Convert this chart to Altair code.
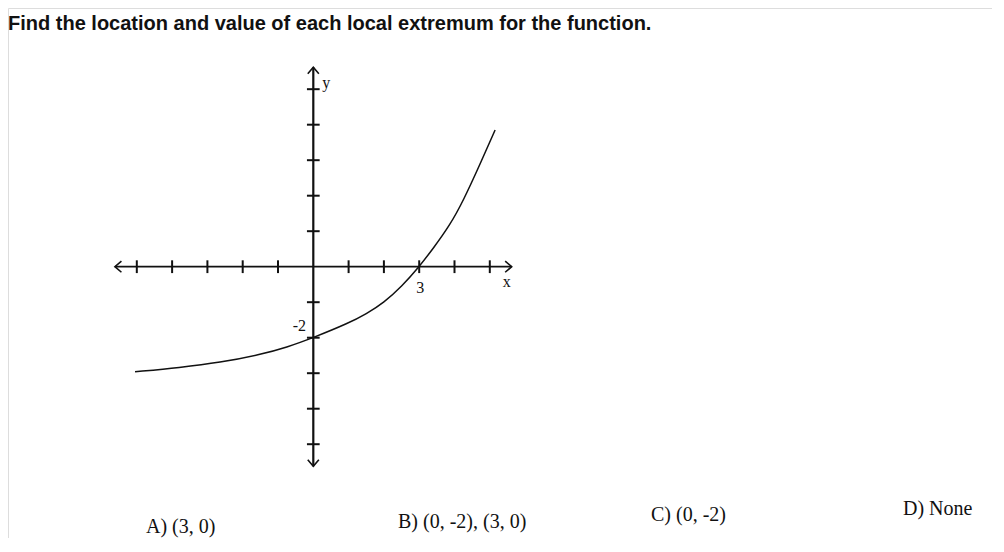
import altair as alt
import pandas as pd

# ---- content ----
title_text = "Find the location and value of each local extremum for the function."
choices = ["A) (3, 0)", "B) (0, -2), (3, 0)", "C) (0, -2)", "D) None"]

curve_x = [-5.05, -3.78, -2.64, -1.51, -0.75, 0.0, 1.0, 1.5, 2.0, 2.5, 3.0, 3.4, 3.87, 4.25, 4.72, 5.15]
curve_y = [-2.96, -2.84, -2.70, -2.48, -2.27, -2.0, -1.59, -1.33, -1.01, -0.56, 0.0, 0.52, 1.17, 1.86, 2.88, 3.85]

x_ticks = [-5, -4, -3, -2, -1, 1, 2, 3, 4, 5]
y_ticks = [-5, -4, -3, -2, -1, 1, 2, 3, 4, 5]
axis_min = -5.62
axis_max = 5.62
labeled_x_ticks = ["3"]
labeled_y_ticks = ["-2"]
x_name = "x"
y_name = "y"

# ---- layout ----
W, H = 984, 530
xs = alt.Scale(domain=[-8.649, 19.227], nice=False, zero=False)
ys = alt.Scale(domain=[-7.642, 7.287], nice=False, zero=False)
X = lambda f: alt.X(f, type="quantitative", scale=xs, axis=None)
Y = lambda f: alt.Y(f, type="quantitative", scale=ys, axis=None)
INK = "#111111"
TICK = 0.18

# axes lines
x_axis = alt.Chart(pd.DataFrame({"a": [axis_min], "b": [axis_max], "z": [0]})).mark_rule(
    color=INK, strokeWidth=1.8).encode(x=X("a"), x2="b", y=Y("z"))
y_axis = alt.Chart(pd.DataFrame({"a": [axis_min], "b": [axis_max], "z": [0]})).mark_rule(
    color=INK, strokeWidth=2.2).encode(y=Y("a"), y2="b", x=X("z"))

xt = pd.DataFrame({"v": x_ticks})
xt["lo"], xt["hi"] = -TICK, TICK
x_tick_marks = alt.Chart(xt).mark_rule(color=INK, strokeWidth=2).encode(x=X("v"), y=Y("lo"), y2="hi")
yt = pd.DataFrame({"v": y_ticks})
yt["lo"], yt["hi"] = -TICK, TICK
y_tick_marks = alt.Chart(yt).mark_rule(color=INK, strokeWidth=2).encode(y=Y("v"), x=X("lo"), x2="hi")

# arrow heads
arrows = pd.DataFrame({
    "x": [axis_min, axis_max, 0, 0],
    "y": [0, 0, axis_max, axis_min],
    "shape": ["M1,-0.85L0,0L1,0.85", "M-1,-0.85L0,0L-1,0.85",
              "M-0.85,1L0,0L0.85,1", "M-0.85,-1L0,0L0.85,-1"],
})
arrow_marks = alt.Chart(arrows).mark_point(filled=False, color=INK, strokeWidth=1.6, size=170, opacity=1).encode(
    x=X("x"), y=Y("y"), shape=alt.Shape("shape:N", scale=None))

# curve
curve = alt.Chart(pd.DataFrame({"x": curve_x, "y": curve_y})).mark_line(
    color=INK, strokeWidth=1.5, interpolate="basis").encode(x=X("x"), y=Y("y"), order="x:Q")

# labels
lab_font = "Liberation Serif"
x3 = alt.Chart(pd.DataFrame({"t": labeled_x_ticks, "v": [float(s) for s in labeled_x_ticks], "z": [0]})).mark_text(
    font=lab_font, fontSize=16, color=INK, dy=21, dx=1).encode(x=X("v"), y=Y("z"), text="t")
ym2 = alt.Chart(pd.DataFrame({"t": labeled_y_ticks, "v": [float(s) for s in labeled_y_ticks], "z": [0]})).mark_text(
    font=lab_font, fontSize=16, color=INK, dx=-14, dy=-12).encode(x=X("z"), y=Y("v"), text="t")
xname = alt.Chart(pd.DataFrame({"t": [x_name], "v": [axis_max], "z": [0]})).mark_text(
    font=lab_font, fontSize=16, color=INK, dx=-5, dy=15).encode(x=X("v"), y=Y("z"), text="t")
yname = alt.Chart(pd.DataFrame({"t": [y_name], "v": [axis_max], "z": [0]})).mark_text(
    font=lab_font, fontSize=16, color=INK, dx=13, dy=16).encode(x=X("z"), y=Y("v"), text="t")

# title & choices (pixel placement)
title = alt.Chart(pd.DataFrame({"t": [title_text]})).mark_text(
    font="Liberation Sans", fontWeight="bold", fontSize=20, color=INK, align="left",
    baseline="alphabetic").encode(x=alt.value(0), y=alt.value(22), text="t")

choice_pos = [(138, 525), (390, 520), (643, 513), (895, 507)]
choice_layers = []
for c, (px, py) in zip(choices, choice_pos):
    choice_layers.append(alt.Chart(pd.DataFrame({"t": [c]})).mark_text(
        font="Liberation Serif", fontSize=20, color=INK, align="left", baseline="alphabetic").encode(
        x=alt.value(px), y=alt.value(py), text="t"))

chart = alt.layer(x_axis, y_axis, x_tick_marks, y_tick_marks, arrow_marks, curve,
                  x3, ym2, xname, yname, title, *choice_layers).properties(
    width=W, height=H, padding=0
).configure_view(stroke=None).configure(background="white")

chart.save("out.html", embed_options={"renderer": "svg", "actions": False})
